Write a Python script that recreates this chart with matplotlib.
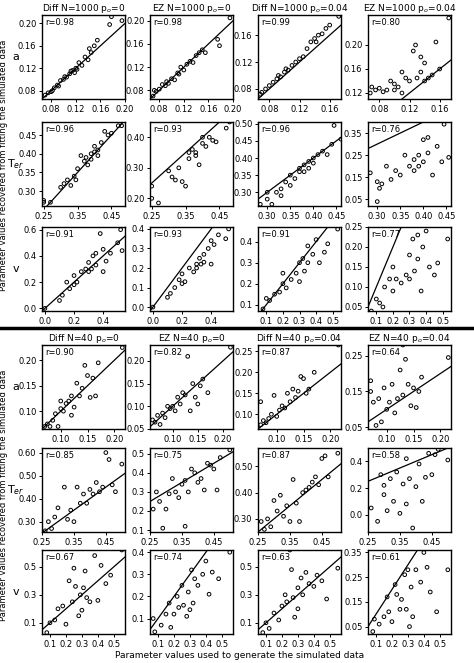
import matplotlib
matplotlib.use("Agg")
import matplotlib.pyplot as plt

W, H = 474, 663
fig = plt.figure(figsize=(W/100, H/100), dpi=100)

titles = ["Diff N=1000 p$_o$=0", "EZ N=1000 p$_o$=0", "Diff N=1000 p$_o$=0.04", "EZ N=1000 p$_o$=0.04",
          "Diff N=40 p$_o$=0", "EZ N=40 p$_o$=0", "Diff N=40 p$_o$=0.04", "EZ N=40 p$_o$=0.04"]
rvals = ["0.98","0.98","0.99","0.80","0.96","0.93","0.96","0.76","0.91","0.93","0.91","0.77",
         "0.90","0.82","0.87","0.64","0.85","0.75","0.87","0.58","0.67","0.74","0.63","0.61"]

X = [
 [.07,.075,.08,.082,.085,.09,.092,.095,.1,.102,.105,.11,.112,.115,.118,.12,.122,.125,.13,.135,.14,.142,.145,.15,.155,.175,.178,.195],
 [.07,.072,.075,.08,.085,.09,.092,.095,.1,.105,.11,.112,.115,.12,.125,.13,.135,.14,.145,.15,.155,.175,.178,.195],
 [.068,.07,.075,.08,.085,.09,.092,.095,.1,.102,.105,.11,.115,.12,.125,.13,.135,.14,.142,.145,.15,.155,.16,.172],
 [.068,.07,.075,.08,.085,.09,.095,.1,.1,.105,.11,.11,.115,.12,.125,.128,.13,.135,.135,.14,.14,.145,.15,.155,.16,.172],
 [.25,.25,.27,.3,.31,.32,.33,.34,.345,.35,.36,.37,.375,.38,.39,.39,.4,.4,.41,.41,.42,.43,.44,.45,.47,.48],
 [.25,.25,.27,.3,.31,.32,.33,.34,.35,.36,.36,.37,.38,.38,.39,.4,.4,.41,.42,.43,.44,.47,.48],
 [.285,.3,.3,.31,.32,.33,.33,.34,.35,.35,.36,.37,.37,.38,.38,.39,.39,.4,.4,.41,.42,.43,.44,.445,.46],
 [.285,.3,.3,.305,.31,.32,.33,.34,.35,.36,.37,.38,.38,.39,.39,.4,.4,.41,.41,.42,.43,.44,.445,.455],
 [0,.1,.12,.15,.17,.2,.2,.22,.25,.28,.3,.3,.32,.33,.35,.35,.38,.4,.4,.42,.45,.5,.52,.53],
 [0,.1,.12,.15,.18,.2,.2,.22,.25,.28,.3,.3,.32,.33,.35,.35,.38,.4,.4,.42,.45,.5,.52],
 [.08,.1,.12,.15,.18,.2,.2,.22,.25,.28,.3,.3,.32,.33,.35,.35,.38,.4,.42,.45,.47,.53],
 [.07,.1,.12,.14,.15,.18,.2,.2,.22,.25,.28,.3,.3,.32,.33,.35,.35,.37,.38,.4,.42,.45,.47,.53],
 [.07,.075,.08,.085,.09,.095,.1,.1,.105,.11,.115,.12,.12,.125,.13,.135,.14,.145,.15,.155,.16,.165,.17,.215],
 [.06,.065,.07,.075,.08,.085,.09,.095,.1,.105,.11,.115,.12,.125,.13,.135,.14,.145,.15,.155,.16,.17,.215],
 [.07,.07,.075,.08,.085,.09,.095,.1,.105,.11,.115,.12,.125,.13,.135,.14,.145,.15,.155,.16,.17,.215],
 [.07,.07,.075,.08,.085,.09,.095,.1,.105,.11,.115,.12,.125,.13,.13,.135,.14,.145,.15,.155,.16,.165,.215],
 [.26,.27,.28,.29,.3,.32,.33,.34,.35,.36,.37,.38,.39,.4,.41,.42,.43,.44,.45,.46,.47,.48,.5],
 [.26,.27,.28,.29,.3,.31,.32,.33,.34,.35,.36,.36,.37,.38,.39,.4,.41,.42,.43,.44,.45,.46,.47,.5],
 [.26,.27,.28,.29,.3,.31,.32,.33,.34,.35,.36,.37,.38,.39,.4,.41,.42,.43,.44,.45,.46,.47,.5],
 [.26,.28,.29,.3,.3,.31,.32,.33,.34,.35,.36,.37,.37,.38,.39,.4,.41,.42,.43,.44,.45,.46,.47,.5],
 [.08,.1,.13,.15,.18,.2,.22,.24,.25,.26,.28,.29,.3,.31,.32,.33,.35,.38,.4,.42,.45,.48,.55],
 [.07,.08,.12,.15,.17,.18,.2,.22,.23,.25,.26,.28,.29,.3,.31,.32,.33,.35,.38,.4,.42,.44,.48,.55],
 [.08,.1,.12,.15,.18,.2,.22,.23,.25,.26,.27,.28,.3,.3,.32,.33,.35,.37,.4,.42,.45,.48,.55],
 [.08,.09,.12,.15,.17,.18,.2,.22,.23,.25,.26,.28,.29,.3,.31,.32,.33,.35,.38,.4,.42,.44,.48,.55],
]
Y = [
 [.072,.076,.078,.08,.085,.09,.088,.098,.1,.105,.104,.11,.115,.116,.112,.12,.118,.13,.125,.14,.135,.155,.148,.16,.17,.198,.212,.205],
 [.07,.08,.078,.082,.09,.088,.095,.092,.1,.098,.11,.108,.12,.115,.125,.13,.128,.14,.145,.15,.145,.168,.157,.205],
 [.072,.075,.08,.085,.09,.095,.1,.098,.105,.11,.108,.115,.12,.125,.128,.14,.15,.155,.15,.16,.162,.17,.175,.188],
 [.12,.13,.125,.128,.122,.125,.14,.135,.125,.13,.155,.12,.145,.14,.19,.2,.145,.155,.18,.17,.14,.145,.15,.205,.16,.245],
 [.275,.27,.27,.31,.32,.33,.315,.34,.33,.36,.395,.38,.39,.37,.4,.385,.42,.405,.41,.395,.43,.46,.45,.455,.475,.475],
 [.24,.2,.185,.29,.27,.26,.3,.255,.24,.35,.33,.36,.35,.34,.31,.38,.4,.37,.4,.39,.385,.43,.45],
 [.265,.28,.3,.265,.3,.31,.29,.33,.32,.35,.34,.36,.37,.38,.36,.39,.37,.385,.4,.41,.42,.41,.44,.495,.455],
 [.17,.04,.13,.1,.12,.2,.14,.18,.16,.25,.2,.23,.18,.25,.2,.32,.22,.33,.26,.16,.29,.22,.39,.24],
 [0,.06,.1,.2,.15,.18,.25,.2,.28,.3,.28,.35,.3,.4,.33,.42,.57,.45,.28,.36,.42,.5,.6,.44],
 [0,.05,.07,.1,.14,.12,.17,.13,.2,.18,.22,.2,.25,.22,.27,.23,.3,.34,.22,.32,.37,.35,.4],
 [.08,.13,.12,.15,.16,.25,.2,.18,.22,.25,.3,.21,.32,.26,.38,.3,.34,.41,.3,.35,.39,.46],
 [.04,.07,.06,.05,.1,.12,.09,.15,.12,.11,.13,.18,.12,.22,.14,.23,.17,.09,.2,.24,.15,.13,.16,.22],
 [.07,.075,.07,.082,.095,.07,.105,.12,.1,.115,.12,.13,.092,.108,.155,.13,.145,.19,.17,.127,.165,.13,.195,.225],
 [.07,.065,.08,.06,.085,.075,.1,.095,.1,.09,.12,.105,.13,.125,.21,.09,.15,.12,.105,.145,.16,.13,.23],
 [.075,.13,.085,.08,.09,.1,.145,.095,.11,.12,.115,.15,.13,.16,.14,.155,.19,.185,.15,.16,.2,.265],
 [.15,.18,.12,.055,.13,.065,.16,.1,.12,.17,.09,.13,.21,.28,.14,.24,.17,.11,.16,.105,.15,.19,.245],
 [.26,.3,.27,.32,.36,.45,.31,.35,.3,.45,.38,.42,.38,.44,.42,.47,.43,.45,.6,.57,.46,.43,.55],
 [.21,.3,.25,.11,.21,.29,.37,.3,.27,.34,.12,.36,.3,.42,.4,.35,.37,.31,.45,.44,.42,.31,.48,.52],
 [.29,.26,.3,.27,.37,.33,.39,.31,.35,.29,.45,.36,.29,.4,.41,.42,.44,.46,.43,.53,.54,.46,.55],
 [.05,-.05,.3,.15,.22,.03,.27,.1,.32,.01,.23,.08,.42,.27,-.1,.21,.38,.1,.28,.46,.3,.45,.49,.41],
 [.03,.1,.12,.2,.22,.09,.4,.25,.49,.36,.15,.3,.19,.35,.47,.28,.25,.58,.26,.51,.38,.44,.62],
 [.1,.04,.07,.12,.17,.06,.12,.2,.15,.25,.16,.11,.22,.14,.32,.17,.28,.25,.3,.36,.21,.31,.28,.4],
 [.03,.1,.06,.17,.12,.22,.3,.25,.62,.48,.28,.14,.35,.2,.42,.3,.46,.38,.36,.44,.4,.27,.49],
 [.03,.08,.06,.09,.17,.11,.07,.22,.18,.12,.16,.26,.12,.28,.05,.21,.09,.28,.23,.35,.29,.19,.11,.28],
]
XLIM = [(.065,.2),(.065,.2),(.065,.175),(.065,.175),(.245,.49),(.245,.49),(.28,.46),(.28,.46),
        (-.02,.55),(-.02,.55),(.05,.55),(.05,.55),(.065,.22),(.055,.22),(.065,.22),(.065,.22),
        (.25,.51),(.25,.51),(.25,.51),(.25,.51),(.05,.57),(.05,.57),(.05,.57),(.05,.57)]
YLIM = [(.065,.215),(.065,.21),(.065,.19),(.11,.25),(.26,.485),(.175,.45),(.26,.505),(.02,.4),
        (-.02,.62),(-.02,.41),(.07,.47),(.04,.25),(.065,.23),(.05,.235),(.065,.265),(.045,.28),
        (.255,.62),(.09,.53),(.25,.57),(-.13,.5),(.02,.62),(.03,.41),(.02,.62),(.02,.36)]
XT = [[.08,.12,.16,.20],[.08,.12,.16,.20],[.08,.12,.16],[.08,.12,.16],
      [.25,.35,.45],[.25,.35,.45],[.30,.35,.40,.45],[.30,.35,.40,.45],
      [0,.2,.4],[0,.2,.4],[.1,.2,.3,.4,.5],[.1,.2,.3,.4,.5]]
XT = XT + [[.10,.15,.20]]*4 + [[.25,.35,.45]]*4 + [[.1,.2,.3,.4,.5]]*4
YT = [[.08,.12,.16,.20],[.08,.12,.16,.20],[.08,.12,.16],[.12,.16,.20],
      [.30,.35,.40,.45],[.20,.30,.40],[.30,.35,.40,.45,.50],[.05,.15,.25,.35],
      [0,.2,.4,.6],[0,.1,.2,.3,.4],[.1,.2,.3,.4],[.05,.10,.15,.20,.25],
      [.10,.15,.20],[.05,.10,.15,.20],[.10,.15,.20,.25],[.05,.15,.25],
      [.30,.40,.50,.60],[.1,.2,.3,.4,.5],[.30,.40,.50],[0,.2,.4],
      [.1,.3,.5],[.1,.2,.3,.4],[.1,.3,.5],[.05,.15,.25,.35]]
XF = ["%.2f"]*8 + ["%.1f"]*4 + ["%.2f"]*8 + ["%.1f"]*4
YF = ["%.2f"]*8 + ["%.1f","%.1f","%.1f","%.2f"] + ["%.2f"]*4 + ["%.2f","%.1f","%.2f","%.1f"] + ["%.1f","%.1f","%.1f","%.2f"]

colx = [42, 150, 258, 368]
rowy = [15, 122, 227, 345, 448, 550]
pw, ph = 83, 84
rowlab = ["a", "T$_{er}$", "v"]
for i in range(24):
    r, c = divmod(i, 4)
    ax = fig.add_axes([colx[c]/W, 1-(rowy[r]+ph)/H, pw/W, ph/H])
    ax.scatter(X[i], Y[i], s=7, facecolors="none", edgecolors="black", linewidths=0.7, zorder=3)
    lo = min(XLIM[i][0], YLIM[i][0]) - 1; hi = max(XLIM[i][1], YLIM[i][1]) + 1
    ax.plot([lo, hi], [lo, hi], color="black", lw=0.9)
    ax.set_xlim(*XLIM[i]); ax.set_ylim(*YLIM[i])
    ax.set_xticks(XT[i]); ax.set_yticks(YT[i])
    ax.set_xticklabels([XF[i] % v for v in XT[i]])
    ax.set_yticklabels([YF[i] % v for v in YT[i]])
    ax.tick_params(labelsize=6, length=2.5, width=0.7, pad=1.5)
    for s in ax.spines.values(): s.set_linewidth(1.0)
    ax.text(0.04, 0.97, "r=" + rvals[i], transform=ax.transAxes, fontsize=6, va="top", ha="left")
    if r % 3 == 0:
        ax.set_title(titles[(r//3)*4 + c], fontsize=6.5, pad=2)
    if c == 0:
        fig.text(16/W, 1-(rowy[r]+ph*0.5)/H, rowlab[r % 3], fontsize=8, ha="center", va="center")

fig.add_artist(plt.Line2D([0, 1], [1-328/H, 1-328/H], color="black", lw=2.5))
fig.text(4/W, 1-165/H, "Parameter values recovered from fitting the simulated data", rotation=90, fontsize=6, ha="center", va="center")
fig.text(4/W, 1-495/H, "Parameter values recovered from fitting the simulated data", rotation=90, fontsize=6, ha="center", va="center")
fig.text(240/W, 1-656/H, "Parameter values used to generate the simulated data", fontsize=6.5, ha="center", va="center")
fig.savefig("out.png", dpi=100)
